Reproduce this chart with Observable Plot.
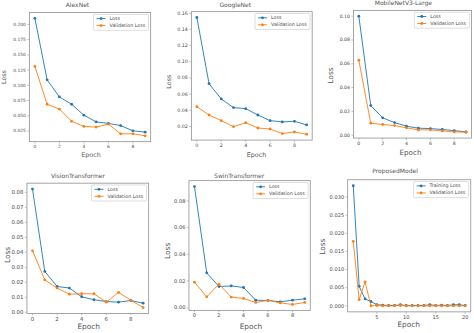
<!DOCTYPE html>
<html>
<head>
<meta charset="utf-8">
<script src="https://cdn.jsdelivr.net/npm/d3@7"></script>
<script src="https://cdn.jsdelivr.net/npm/@observablehq/plot@0.6"></script>
<style>
  html, body { margin: 0; padding: 0; background: #fff; }
  #chart { position: relative; width: 474px; height: 333px; overflow: hidden; background: #fff; }
  #chart svg { position: absolute; left: 0; top: 0; }
</style>
</head>
<body>
<div id="chart"></div>
<script>
// Epoch indices
const epochs10 = [0, 1, 2, 3, 4, 5, 6, 7, 8, 9];
const epochs20 = [1, 2, 3, 4, 5, 6, 7, 8, 9, 10, 11, 12, 13, 14, 15, 16, 17, 18, 19, 20];

// Loss curves per model
const alexnetLoss = [0.210, 0.109, 0.081, 0.069, 0.051, 0.040, 0.0375, 0.034, 0.0254, 0.0232];
const alexnetVal  = [0.131, 0.069, 0.061, 0.041, 0.0326, 0.0315, 0.0364, 0.0205, 0.0205, 0.0172];

const googlenetLoss = [0.1547, 0.0729, 0.054, 0.0433, 0.042, 0.0342, 0.0272, 0.0256, 0.0264, 0.0219];
const googlenetVal  = [0.0445, 0.0342, 0.0272, 0.0198, 0.0247, 0.0181, 0.0169, 0.0112, 0.0132, 0.0104];

const mobilenetLoss = [0.100, 0.0249, 0.0146, 0.0106, 0.0076, 0.0059, 0.0056, 0.0048, 0.0039, 0.0028];
const mobilenetVal  = [0.063, 0.0101, 0.009, 0.0081, 0.0062, 0.0045, 0.0045, 0.0036, 0.0028, 0.0025];

const vitLoss = [0.0822, 0.0272, 0.0172, 0.0161, 0.0103, 0.0083, 0.0071, 0.0067, 0.0078, 0.006];
const vitVal  = [0.041, 0.0216, 0.0161, 0.012, 0.0123, 0.0123, 0.0067, 0.0132, 0.008, 0.0031];

const swinLoss = [0.0907, 0.0262, 0.0159, 0.0164, 0.0152, 0.0057, 0.0055, 0.0045, 0.0057, 0.0067];
const swinVal  = [0.0192, 0.0082, 0.0177, 0.008, 0.007, 0.004, 0.0055, 0.0037, 0.0025, 0.004];

const proposedTrain = [0.0331, 0.0054, 0.0019, 0.0012, 0.0003, 0.0002, 0.0001, 0.0001, 0.0003, 0.0001,
                       0.0001, 0.0001, 0.0001, 0.0003, 0.0001, 0.0002, 0.0001, 0.0003, 0.0003, 0.0001];
const proposedVal   = [0.0178, 0.0017, 0.0066, 0.0000, 0.0001, 0.0000, 0.0000, 0.0000, 0.0001, 0.0000,
                       0.0000, 0.0000, 0.0000, 0.0000, 0.0000, 0.0000, 0.0000, 0.0000, 0.0000, 0.0000];

// Tick values
const ticksAlex = [0.025, 0.05, 0.075, 0.1, 0.125, 0.15, 0.175, 0.2];
const ticksGoogle = [0.02, 0.04, 0.06, 0.08, 0.10, 0.12, 0.14, 0.16];
const ticksMobile = [0, 0.02, 0.04, 0.06, 0.08, 0.10];
const ticksVit = [0, 0.01, 0.02, 0.03, 0.04, 0.05, 0.06, 0.07, 0.08];
const ticksSwin = [0, 0.02, 0.04, 0.06, 0.08];
const ticksProposed = [0, 0.005, 0.01, 0.015, 0.02, 0.025, 0.03];
const xTicksShort = [0, 2, 4, 6, 8];
const xTicksLong = [5, 10, 15, 20];

const BLUE = "#1f77b4", ORANGE = "#ff7f0e";
const W = 474, H = 333;
// Each panel is drawn at K times its size and shown through the viewBox,
// so the very small type renders at its true size.
const K = 3;

// Panel layout: frame box [left, right, top, bottom] in page pixels
const panels = [
  { title: "AlexNet", epochs: epochs10, train: alexnetLoss, val: alexnetVal, trainLabel: "Loss",
    yTicks: ticksAlex, yFormat: ".3f", xTicks: xTicksShort,
    box: [29.2, 150.5, 12.3, 141.5], titleX: 77.5, titleY: 5.7, lossX: 4, lossY: 77, epochX: 91, epochY: 155,
    tickFont: 4.4, labelFont: 6.3 },
  { title: "GoogleNet", epochs: epochs10, train: googlenetLoss, val: googlenetVal, trainLabel: "Loss",
    yTicks: ticksGoogle, yFormat: ".2f", xTicks: xTicksShort,
    box: [191.2, 312, 11.5, 139.9], titleX: 235.3, titleY: 5, lossX: 169, lossY: 81.7, epochX: 256.5, epochY: 155.3,
    tickFont: 4.8, labelFont: 6.4 },
  { title: "MobileNetV3-Large", epochs: epochs10, train: mobilenetLoss, val: mobilenetVal, trainLabel: "Loss",
    yTicks: ticksMobile, yFormat: ".2f", xTicks: xTicksShort,
    box: [353.3, 471.3, 10.2, 137.9], titleX: 403.3, titleY: 3.6, lossX: 330.7, lossY: 75.5, epochX: 410.5, epochY: 153.3,
    tickFont: 4.6, labelFont: 7.2 },
  { title: "VisionTransformer", epochs: epochs10, train: vitLoss, val: vitVal, trainLabel: "Loss",
    yTicks: ticksVit, yFormat: ".2f", xTicks: xTicksShort,
    box: [26.8, 148.5, 183, 313.3], titleX: 78, titleY: 176.7, lossX: 8.3, lossY: 255, epochX: 88.7, epochY: 327.3,
    tickFont: 5.4, labelFont: 7.4 },
  { title: "SwinTransformer", epochs: epochs10, train: swinLoss, val: swinVal, trainLabel: "Loss",
    yTicks: ticksSwin, yFormat: ".2f", xTicks: xTicksShort,
    box: [188.8, 310.1, 180.5, 310.2], titleX: 239.2, titleY: 176.7, lossX: 168.3, lossY: 250.8, epochX: 251, epochY: 326.7,
    tickFont: 5.1, labelFont: 7.4 },
  { title: "ProposedModel", epochs: epochs20, train: proposedTrain, val: proposedVal, trainLabel: "Training Loss",
    yTicks: ticksProposed, yFormat: ".3f", xTicks: xTicksLong,
    box: [347.5, 470.6, 179.6, 311.7], titleX: 395, titleY: 171.7, lossX: 323.3, lossY: 246.7, epochX: 408.7, epochY: 325,
    tickFont: 5.1, labelFont: 7.4 }
];

const chart = document.getElementById("chart");
const font = "DejaVu Sans";
const ink = "#4a4a4a";
const labelInk = "#555";

for (const p of panels) {
  const [L, R, T, B] = p.box.map(v => v * K);
  const [y0, y1] = d3.extent(p.train.concat(p.val));
  const yPad = (y1 - y0) * 0.05;
  const [x0, x1] = d3.extent(p.epochs);
  const xPad = (x1 - x0) * 0.05;
  const trainRows = p.epochs.map((e, i) => ({ epoch: e, loss: p.train[i] }));
  const valRows = p.epochs.map((e, i) => ({ epoch: e, loss: p.val[i] }));

  const svg = Plot.plot({
    width: W * K, height: H * K,
    marginLeft: L, marginRight: W * K - R, marginTop: T, marginBottom: H * K - B,
    style: { background: "transparent", fontFamily: font, fontSize: (p.tickFont * K) + "px", color: ink, overflow: "visible" },
    x: { domain: [x0 - xPad, x1 + xPad], ticks: p.xTicks, tickFormat: d3.format("d"), tickSize: 2 * K, tickPadding: 1.5 * K, label: null },
    y: { domain: [y0 - yPad, y1 + yPad], ticks: p.yTicks, tickFormat: d3.format(p.yFormat), tickSize: 2 * K, tickPadding: 1.5 * K, label: null },
    marks: [
      Plot.frame({ stroke: "#8f8f8f", strokeWidth: 0.8 * K }),
      Plot.line(trainRows, { x: "epoch", y: "loss", stroke: BLUE, strokeWidth: 0.9 * K }),
      Plot.dot(trainRows, { x: "epoch", y: "loss", fill: BLUE, r: 1.4 * K }),
      Plot.line(valRows, { x: "epoch", y: "loss", stroke: ORANGE, strokeWidth: 0.9 * K }),
      Plot.dot(valRows, { x: "epoch", y: "loss", fill: ORANGE, r: 1.4 * K })
    ]
  });

  const s = d3.select(svg);

  // Title
  s.append("text").attr("x", p.titleX * K).attr("y", p.titleY * K)
    .attr("text-anchor", "middle").attr("dominant-baseline", "middle")
    .attr("font-family", font).attr("font-size", 6 * K).attr("fill", labelInk).text(p.title);

  // Axis labels
  s.append("text").attr("x", p.epochX * K).attr("y", p.epochY * K)
    .attr("text-anchor", "middle").attr("dominant-baseline", "middle")
    .attr("font-family", font).attr("font-size", p.labelFont * K).attr("fill", labelInk).text("Epoch");
  s.append("text").attr("transform", `translate(${p.lossX * K},${p.lossY * K}) rotate(-90)`)
    .attr("text-anchor", "middle").attr("dominant-baseline", "middle")
    .attr("font-family", font).attr("font-size", p.labelFont * K).attr("fill", labelInk).text("Loss");

  // Legend, upper right inside the frame
  const lw = 55 * K, lh = 16 * K;
  const bx = R - 2 * K - lw, by = T + 2 * K;
  const g = s.append("g").attr("text-anchor", "start");
  g.append("rect").attr("x", bx).attr("y", by).attr("width", lw).attr("height", lh).attr("rx", 1 * K)
    .attr("fill", "#fff").attr("fill-opacity", 0.85).attr("stroke", "#c8c8c8").attr("stroke-width", 0.6 * K);
  [[p.trainLabel, BLUE], ["Validation Loss", ORANGE]].forEach(([label, color], i) => {
    const cy = by + (4.3 + i * 7) * K;
    g.append("line").attr("x1", bx + 3 * K).attr("x2", bx + 12 * K).attr("y1", cy).attr("y2", cy)
      .attr("stroke", color).attr("stroke-width", 0.9 * K);
    g.append("circle").attr("cx", bx + 7.5 * K).attr("cy", cy).attr("r", 1.4 * K).attr("fill", color);
    g.append("text").attr("x", bx + 16 * K).attr("y", cy).attr("dominant-baseline", "middle")
      .attr("text-anchor", "start")
      .attr("font-family", font).attr("font-size", 4.8 * K).attr("fill", ink).text(label);
  });

  // Show the enlarged drawing at page size
  svg.setAttribute("width", W);
  svg.setAttribute("height", H);
  svg.style.width = W + "px";
  svg.style.height = H + "px";
  chart.appendChild(svg);
}
</script>
</body>
</html>
